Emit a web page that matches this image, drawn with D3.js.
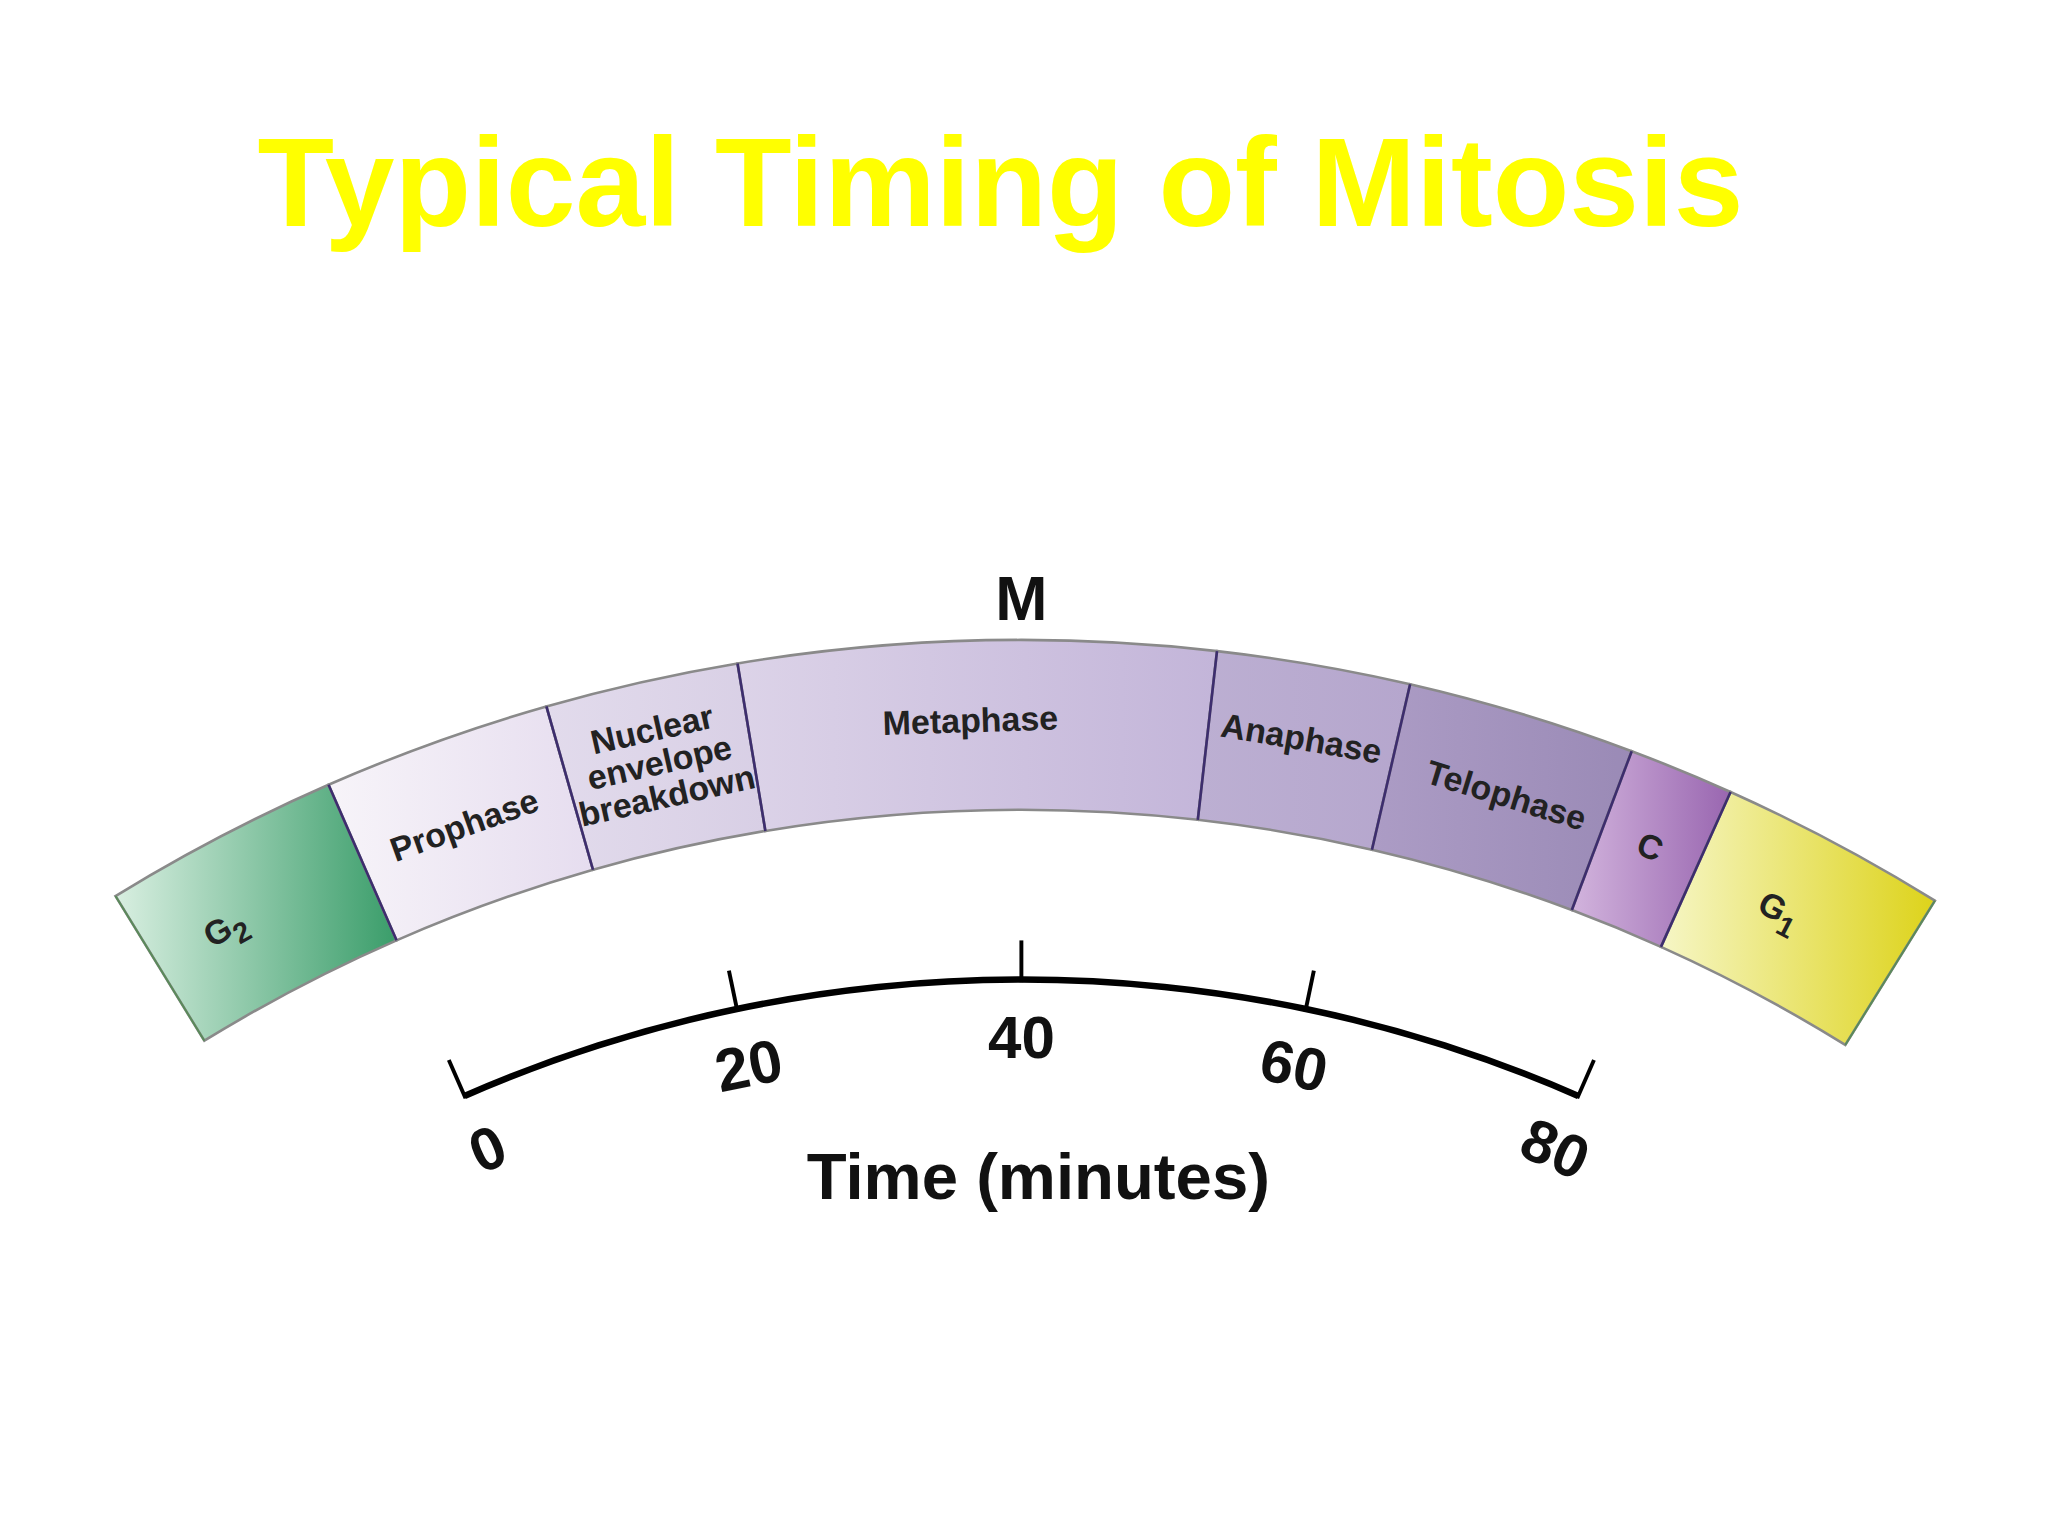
<!DOCTYPE html>
<html><head><meta charset="utf-8">
<script src="https://cdn.jsdelivr.net/npm/d3@7"></script>
<style>html,body{margin:0;background:#fff}</style></head>
<body><script>
const phases = ["G2","Prophase","Nuclear envelope breakdown","Metaphase","Anaphase","Telophase","C","G1"];
const phaseStart = [-13.5,0,13,24,51,62,75,81];
const phaseEnd   = [0,13,24,51,62,75,81,94];
const colorFrom = ["#d9efe1","#f7f4f9","#e2dbec","#dcd3e8","#bcafd2","#ac9cc5","#d2b4dd","#f6f6c6"];
const colorTo   = ["#3a9d6a","#e6ddef","#d8cfe5","#c3b5d9","#b5a6cd","#9a8ab6","#9966b0","#ddd31a"];
const labelLines = [["G"],["Prophase"],["Nuclear","envelope","breakdown"],["Metaphase"],["Anaphase"],["Telophase"],["C"],["G"]];
const labelSub = ["2","","","","","","","1"];
const labelT = [-9,6.4,18.5,37,56.5,69,78,86.5];
const labelR = [1262,1258,1262,1264,1268,1262,1262,1260];
const ticks = [0,20,40,60,80];

const W=1568,H=1176, cx=782, cy=1815;
const svg=d3.select("body").append("svg").attr("width",2048).attr("height",1536).attr("viewBox",`0 0 ${W} ${H}`);
svg.append("rect").attr("width",W).attr("height",H).attr("fill","#fff");
const ang=d3.scaleLinear().domain([40,80]).range([0,23.6*Math.PI/180]);
const deg=t=>ang(t)*180/Math.PI;
const defs=svg.append("defs");
const g=svg.append("g").attr("transform",`translate(${cx},${cy})`);
const arc=d3.arc().innerRadius(1195).outerRadius(1325);
phases.forEach((p,i)=>{
  const gr=defs.append("linearGradient").attr("id","g"+i);
  gr.append("stop").attr("offset","0%").attr("stop-color",colorFrom[i]);
  gr.append("stop").attr("offset","100%").attr("stop-color",colorTo[i]);
});
g.selectAll("path.seg").data(phases).join("path").attr("class","seg")
 .attr("d",(d,i)=>arc({startAngle:ang(phaseStart[i]),endAngle:ang(phaseEnd[i])}))
 .attr("fill",(d,i)=>`url(#g${i})`).attr("stroke","#8a8a8a").attr("stroke-width",2);
const divs=phaseStart.slice(1).concat([phaseStart[0],phaseEnd[phaseEnd.length-1]]);
g.selectAll("line.div").data(divs).join("line")
 .attr("x1",t=>1195*Math.sin(ang(t))).attr("y1",t=>-1195*Math.cos(ang(t)))
 .attr("x2",t=>1325*Math.sin(ang(t))).attr("y2",t=>-1325*Math.cos(ang(t)))
 .attr("stroke",(t,i)=>i<7?"#3d2d6e":"#5a8a5a").attr("stroke-width",(t,i)=>i<7?2:1.5);
phases.forEach((p,i)=>{
  const lines=labelLines[i];
  const t=g.append("text").attr("transform",`rotate(${deg(labelT[i])}) translate(0,${-labelR[i]})`)
    .attr("text-anchor","middle").attr("font-family","Liberation Sans, Arial, sans-serif")
    .attr("font-weight","bold").attr("font-size",26).attr("fill","#222");
  lines.forEach((l,j)=>t.append("tspan").attr("x",0).attr("y",(j-(lines.length-1)/2)*26+9).text(l));
  if(labelSub[i]) t.append("tspan").attr("dy",8).attr("font-size",22).text(labelSub[i]);
});
const R=1065;
g.append("path").attr("d",d3.arc().innerRadius(R-2.5).outerRadius(R+2.5)({startAngle:ang(0),endAngle:ang(80)})).attr("fill","#000");
g.selectAll("line.tick").data(ticks).join("line")
 .attr("transform",t=>`rotate(${deg(t)})`)
 .attr("x1",0).attr("x2",0).attr("y1",-R+2).attr("y2",-R-30)
 .attr("stroke","#000").attr("stroke-width",3);
g.selectAll("text.tl").data(ticks).join("text")
 .attr("transform",t=>`rotate(${deg(t)}) translate(0,${-R+60})`)
 .attr("text-anchor","middle").attr("font-family","Liberation Sans, Arial, sans-serif")
 .attr("font-weight","bold").attr("font-size",46).attr("fill","#111").text(t=>t);
svg.append("text").attr("x",795).attr("y",918).attr("text-anchor","middle")
 .attr("font-family","Liberation Sans, Arial, sans-serif").attr("font-weight","bold").attr("font-size",50).attr("fill","#111").text("Time (minutes)");
svg.append("text").attr("x",782).attr("y",475).attr("text-anchor","middle")
 .attr("font-family","Liberation Sans, Arial, sans-serif").attr("font-weight","bold").attr("font-size",48).attr("fill","#111").text("M");
svg.append("text").attr("x",766).attr("y",173).attr("text-anchor","middle")
 .attr("font-family","Liberation Sans, Arial, sans-serif").attr("font-weight","bold").attr("font-size",96).attr("fill","#ffff00").text("Typical Timing of Mitosis");
</script></body></html>
